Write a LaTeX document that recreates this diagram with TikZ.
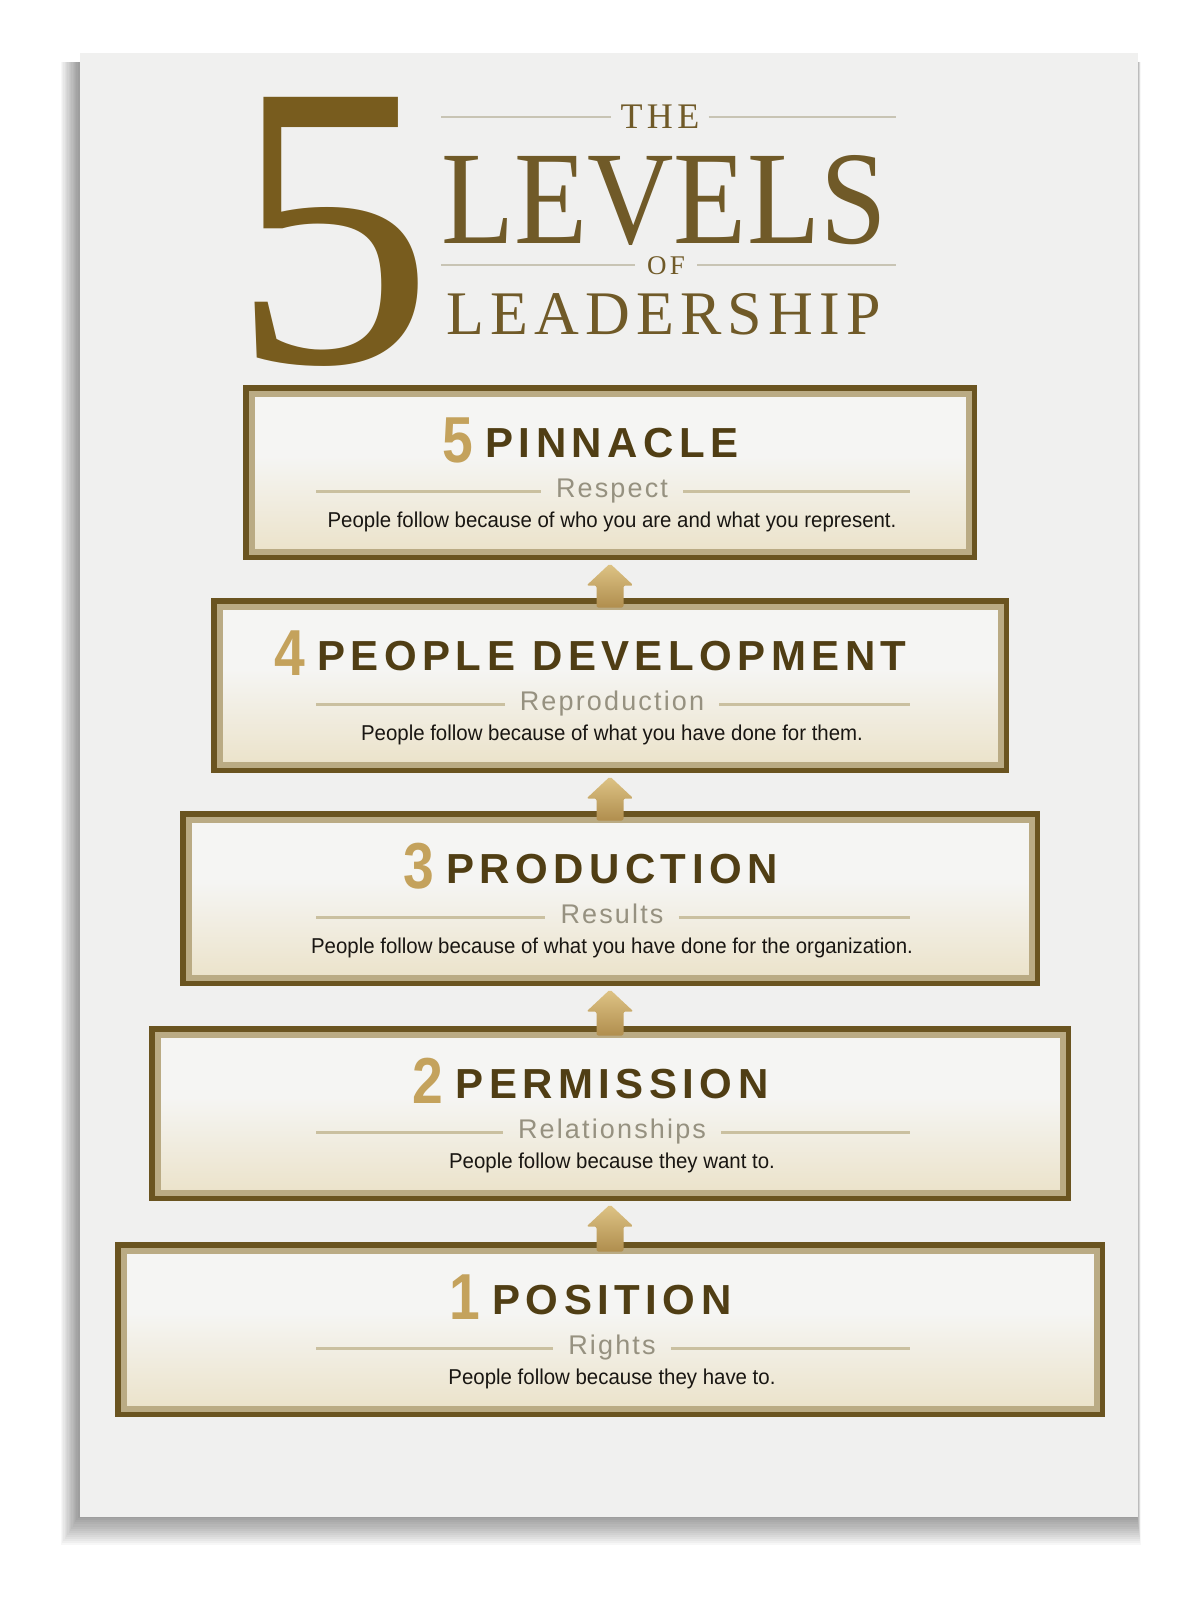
\documentclass[tikz,border=0pt]{standalone}
\usepackage{fontspec}
\setmainfont{Liberation Serif}
\usetikzlibrary{arrows.meta,calc}
\newfontfamily\titleserif{Liberation Serif}
\newfontfamily\levelsfont[FakeStretch=0.9]{Liberation Serif}
\newfontfamily\leadfont[LetterSpace=10]{Liberation Serif}
\newfontfamily\smallcapsfont[LetterSpace=12]{Liberation Serif}
\newfontfamily\headfont[LetterSpace=13]{Liberation Sans}
\newfontfamily\numfont[FakeStretch=0.85]{Liberation Sans}
\newfontfamily\subfont[LetterSpace=8]{Liberation Sans}
\newfontfamily\descfont[FakeStretch=0.95]{Liberation Sans}
\definecolor{postercol}{RGB}{240,240,239}
\definecolor{framecol}{RGB}{106,84,32}
\definecolor{bandcol}{RGB}{186,171,132}
\definecolor{boxtop}{RGB}{245,245,243}
\definecolor{boxmid}{RGB}{236,228,205}
\definecolor{boxbot}{RGB}{222,204,158}
\definecolor{titlecol}{RGB}{112,90,40}
\definecolor{bigfive}{RGB}{120,92,30}
\definecolor{tline}{RGB}{200,196,180}
\definecolor{headcol}{RGB}{80,62,20}
\definecolor{numcol}{RGB}{196,162,92}
\definecolor{subcol}{RGB}{150,145,128}
\definecolor{sublinecol}{RGB}{202,192,160}
\definecolor{desccol}{RGB}{25,22,18}
\definecolor{arrowlight}{RGB}{222,196,134}
\definecolor{arrowdark}{RGB}{176,142,78}
\pgfdeclareverticalshading{boxshade}{100bp}{color(0bp)=(boxbot); color(28bp)=(boxmid); color(55bp)=(boxtop); color(100bp)=(boxtop)}
\tikzset{
  boxframe/.style={draw=framecol, line width=11pt, shading=boxshade, inner sep=0pt},
  band/.style={draw=bandcol, line width=6pt},
  headtext/.style={font=\headfont\bfseries\fontsize{42}{42}\selectfont, text=headcol, inner sep=0pt},
  numtext/.style={font=\numfont\bfseries\fontsize{65}{65}\selectfont, text=numcol, inner sep=0pt},
  subtext/.style={font=\subfont\fontsize{27}{27}\selectfont, text=subcol, inner sep=0pt, text height=19pt, text depth=6pt},
  subline/.style={draw=sublinecol, line width=3pt},
  desctext/.style={font=\descfont\fontsize{21.5}{21.5}\selectfont, text=desccol, inner sep=0pt},
  titleline/.style={draw=tline, line width=2pt},
  arrowshape/.style={top color=arrowlight, bottom color=arrowdark, rounded corners=2pt},
}
\newcommand{\levelbox}[7]{%
  \node[boxframe, minimum width=#2pt-11pt, minimum height=164pt] (#1) at (610,#3+87.5) {};
  \draw[band] ([xshift=8.5pt,yshift=-8.5pt]#1.north west) rectangle ([xshift=-8.5pt,yshift=8.5pt]#1.south east);
  \node[headtext, anchor=base] (#1h) at (612,#3+72) {#5};
  \node[numtext, anchor=base east] (#1n) at ([xshift=-12pt,yshift=-5pt]#1h.base west) {#4};
  \node[subtext] (#1s) at (612,#3+106) {#6};
  \coordinate (#1la) at (316,#3+106);
  \coordinate (#1lb) at (910,#3+106);
  \draw[subline] (#1la) -- ([xshift=-15pt]#1s.west);
  \draw[subline] ([xshift=15pt]#1s.east) -- (#1lb);
  \node[desctext, anchor=base] (#1d) at (612,#3+142) {#7};
}
% up arrow from lower box #1 to upper box #2
\newcommand{\uparrowbetween}[2]{%
  \path[arrowshape] let \p1=([yshift=-9.5pt]#1.north), \p2=([yshift=-3.5pt]#2.south) in
    (\x1-13.5pt,\y1) -- (\x1-13.5pt,\y2-22pt) -- (\x1-23.5pt,\y2-22pt) -- (\x1,\y2)
    -- (\x1+23.5pt,\y2-22pt) -- (\x1+13.5pt,\y2-22pt) -- (\x1+13.5pt,\y1) -- cycle;
}
\begin{document}
\begin{tikzpicture}[x=1pt,y=-1pt]
\useasboundingbox (0,0) rectangle (1196,1600);
\fill[white] (0,0) rectangle (1196,1600);
% poster shadow
\foreach \k in {1,...,14} {
  \fill[black, opacity=0.032] (79-\k*1.3, 62) rectangle (1137+\k*0.25, 1516+\k*2.1);
}
\fill[postercol] (80,53) rectangle (1138,1517);
% title
\node[font=\titleserif\fontsize{405}{405}\selectfont, text=bigfive, anchor=base, inner sep=0pt] (five) at (333,362) {5};
\node[font=\smallcapsfont\fontsize{36}{36}\selectfont, text=titlecol, inner sep=0pt] (the) at (660,117) {THE};
\coordinate (tha) at (441,117);
\coordinate (thb) at (896,117);
\draw[titleline] (tha) -- ([xshift=-9pt]the.west);
\draw[titleline] ([xshift=9pt]the.east) -- (thb);
\node[font=\levelsfont\fontsize{133}{133}\selectfont, text=titlecol, anchor=base west, inner sep=0pt, text depth=0pt] (levels) at (441,243) {LEVELS};
\node[font=\smallcapsfont\fontsize{27}{27}\selectfont, text=titlecol, inner sep=0pt] (of) at (666,266) {OF};
\coordinate (ofa) at (441,265);
\coordinate (ofb) at (896,265);
\draw[titleline] (ofa) -- ([xshift=-12pt]of.west |- ofa);
\draw[titleline] ([xshift=12pt]of.east |- ofa) -- (ofb);
\node[font=\leadfont\fontsize{62}{62}\selectfont, text=titlecol, anchor=base west, inner sep=0pt] (leadership) at (446,334) {LEADERSHIP};
% boxes
\levelbox{b5}{734}{385}{5}{PINNACLE}{Respect}{People follow because of who you are and what you represent.}
\levelbox{b4}{798}{598}{4}{PEOPLE DEVELOPMENT}{Reproduction}{People follow because of what you have done for them.}
\levelbox{b3}{860}{811}{3}{PRODUCTION}{Results}{People follow because of what you have done for the organization.}
\levelbox{b2}{922}{1026}{2}{PERMISSION}{Relationships}{People follow because they want to.}
\levelbox{b1}{990}{1242}{1}{POSITION}{Rights}{People follow because they have to.}
% arrows
\uparrowbetween{b4}{b5}
\uparrowbetween{b3}{b4}
\uparrowbetween{b2}{b3}
\uparrowbetween{b1}{b2}
\end{tikzpicture}
\end{document}
